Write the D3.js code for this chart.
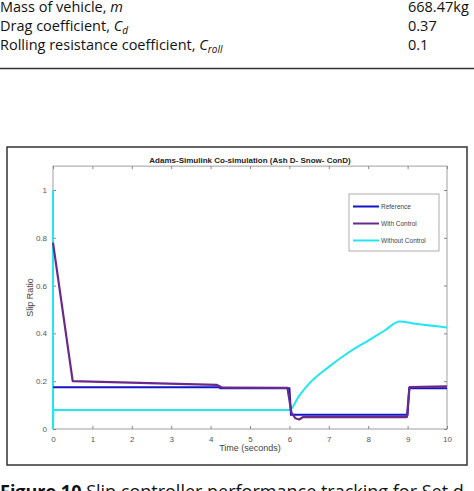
<!DOCTYPE html>
<html><head><meta charset="utf-8">
<script src="https://cdn.jsdelivr.net/npm/d3@7"></script>
<style>body{margin:0;background:#fff;overflow:hidden}</style>
</head><body>
<script>
// table rows above the figure
const tableLabels = ["Mass of vehicle, ", "Drag coefficient, ", "Rolling resistance coefficient, "];
const tableSyms = [["m", ""], ["C", "d"], ["C", "roll"]];
const tableValues = ["668.47kg", "0.37", "0.1"];

const xTicks = [0, 1, 2, 3, 4, 5, 6, 7, 8, 9, 10];
const yTicks = [0, 0.2, 0.4, 0.6, 0.8, 1];

// [time, slip]
const reference = [[0, 0.175], [4.2, 0.175], [4.25, 0.17], [6, 0.17], [6.04, 0.06], [9, 0.06], [9.04, 0.17], [10, 0.17]];
const withControl = [[0, 0.78], [0.5, 0.2], [4.15, 0.185], [4.3, 0.173], [5.95, 0.172], [6.05, 0.07], [6.15, 0.045], [6.25, 0.04], [6.35, 0.05], [8.98, 0.05], [9.05, 0.175], [10, 0.178]];
const withoutControlStart = [[0, 1.0], [0, 0], [0.01, 0.08]];
const withoutControl = [[0.01, 0.08], [6, 0.08], [6.25, 0.14], [6.5, 0.19], [7, 0.26], [7.5, 0.32], [8, 0.37], [8.4, 0.41], [8.8, 0.45], [9.2, 0.44], [10, 0.425]];

const seriesNames = ["Reference", "With Control", "Without Control"];
const seriesColors = ["#1414c8", "#6a2a8c", "#22e6f0"];

const svg = d3.select("body").append("svg").attr("width", 474).attr("height", 491);

// table
const tb = svg.append("g").style("font-family", "'Open Sans', 'DejaVu Sans', sans-serif").style("font-size", "14.5px").attr("fill", "#111");
tableLabels.forEach((lab, i) => {
  const y = 12 + i * 19;
  const t = tb.append("text").attr("x", 0).attr("y", y).text(lab);
  t.append("tspan").style("font-style", "italic").text(tableSyms[i][0]);
  if (tableSyms[i][1]) t.append("tspan").style("font-style", "italic").style("font-size", "10px").attr("dy", 3).text(tableSyms[i][1]);
  tb.append("text").attr("x", 408).attr("y", y).text(tableValues[i]);
});
svg.append("line").attr("x1", 0).attr("x2", 474).attr("y1", 68.5).attr("y2", 68.5).attr("stroke", "#333").attr("stroke-width", 1.5);

// figure frame
svg.append("rect").attr("x", 7).attr("y", 147).attr("width", 460).attr("height", 318).attr("fill", "#fff").attr("stroke", "#333").attr("stroke-width", 1.5);

const x = d3.scaleLinear().domain([0, 10]).range([53, 447]);
const y = d3.scaleLinear().domain([0, 1]).range([429, 190]);
const yTop = y(1.1);

const g = svg.append("g").style("font-family", "'Liberation Sans', Arial, sans-serif");
g.append("rect").attr("x", x(0)).attr("y", yTop).attr("width", x(10) - x(0)).attr("height", y(0) - yTop).attr("fill", "none").attr("stroke", "#888").attr("stroke-width", 0.8);

g.append("g").attr("transform", `translate(0,${y(0)})`)
  .call(d3.axisBottom(x).tickValues(xTicks).tickSize(-3).tickPadding(7).tickFormat(d3.format("d")))
  .call(a => { a.select(".domain").remove(); a.selectAll("line").attr("stroke", "#888"); a.selectAll("text").attr("fill", "#555").style("font-size", "8px"); });
g.append("g").attr("transform", `translate(0,${yTop})`)
  .call(d3.axisTop(x).tickValues(xTicks).tickSize(-3).tickFormat(""))
  .call(a => { a.select(".domain").remove(); a.selectAll("line").attr("stroke", "#888"); });
g.append("g").attr("transform", `translate(${x(0)},0)`)
  .call(d3.axisLeft(y).tickValues(yTicks).tickSize(-3).tickPadding(6).tickFormat(d => d === 0 || d === 1 ? d3.format("d")(d) : d3.format(".1f")(d)))
  .call(a => { a.select(".domain").remove(); a.selectAll("line").attr("stroke", "#888"); a.selectAll("text").attr("fill", "#555").style("font-size", "8px"); });
g.append("g").attr("transform", `translate(${x(10)},0)`)
  .call(d3.axisRight(y).tickValues(yTicks).tickSize(-3).tickFormat(""))
  .call(a => { a.select(".domain").remove(); a.selectAll("line").attr("stroke", "#888"); });

g.append("text").attr("x", 250).attr("y", 163).attr("text-anchor", "middle").style("font-size", "8px").style("font-weight", "bold").attr("fill", "#222").text("Adams-Simulink Co-simulation (Ash D- Snow- ConD)");
g.append("text").attr("x", 250).attr("y", 451).attr("text-anchor", "middle").style("font-size", "9px").attr("fill", "#444").text("Time  (seconds)");
g.append("text").attr("transform", `translate(33,${y(0.55)}) rotate(-90)`).attr("text-anchor", "middle").style("font-size", "9px").attr("fill", "#444").text("Slip Ratio");

const line = d3.line().x(d => x(d[0])).y(d => y(d[1]));
const smooth = d3.line().x(d => x(d[0])).y(d => y(d[1])).curve(d3.curveMonotoneX);
g.append("path").datum(withoutControlStart).attr("d", line).attr("fill", "none").attr("stroke", seriesColors[2]).attr("stroke-width", 2);
g.append("path").datum(withoutControl).attr("d", smooth).attr("fill", "none").attr("stroke", seriesColors[2]).attr("stroke-width", 2);
g.append("path").datum(reference).attr("d", line).attr("fill", "none").attr("stroke", seriesColors[0]).attr("stroke-width", 2);
g.append("path").datum(withControl).attr("d", line).attr("fill", "none").attr("stroke", seriesColors[1]).attr("stroke-width", 2.2).attr("stroke-linejoin", "round");

// legend
const lg = g.append("g");
lg.append("rect").attr("x", 349).attr("y", 194).attr("width", 90).attr("height", 57).attr("fill", "#fff").attr("stroke", "#999").attr("stroke-width", 0.8);
seriesNames.forEach((n, i) => {
  const ly = 206.5 + i * 17;
  lg.append("line").attr("x1", 353).attr("x2", 379).attr("y1", ly).attr("y2", ly).attr("stroke", seriesColors[i]).attr("stroke-width", 2);
  lg.append("text").attr("x", 381).attr("y", ly + 2.5).style("font-size", "6.5px").attr("fill", "#444").text(n);
});

// caption (cut off by page edge)
const cap = svg.append("text").attr("x", 0).attr("y", 498).style("font-family", "'Open Sans', sans-serif").style("font-size", "18px").attr("fill", "#111");
cap.append("tspan").style("font-weight", "bold").text("Figure 10  ");
cap.append("tspan").text("Slip controller performance tracking for Set d");
</script>
</body></html>
